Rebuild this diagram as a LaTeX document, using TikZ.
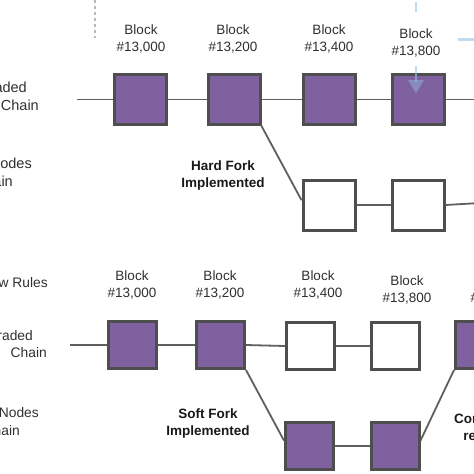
\documentclass[tikz,border=0pt]{standalone}
\usepackage{fontspec}
\setmainfont{Liberation Sans}
\definecolor{blockpurple}{RGB}{127,97,160}
\definecolor{edgegrey}{RGB}{78,78,78}
\definecolor{linegrey}{RGB}{95,95,95}
\definecolor{txtgrey}{RGB}{48,48,48}
\definecolor{cursorblue}{RGB}{150,195,225}
\begin{document}
\begin{tikzpicture}[x=1pt,y=-1pt,
 blk/.style={draw=edgegrey, line width=3pt, inner sep=0pt, minimum width=52pt, minimum height=50pt},
 pblk/.style={blk, fill=blockpurple},
 wblk/.style={blk, fill=white},
 sblk/.style={minimum width=48pt, minimum height=47pt},
 conn/.style={draw=linegrey, line width=1.8pt},
 lbl/.style={font=\fontsize{13.5}{16.5}\selectfont, text=txtgrey, align=center, inner sep=0pt},
 side/.style={font=\fontsize{14.5}{17}\selectfont, text=txtgrey, inner sep=0pt, anchor=base east},
 sideb/.style={font=\fontsize{13.8}{17}\selectfont, text=txtgrey, inner sep=0pt, anchor=base east},
 boldlbl/.style={font=\fontsize{13.5}{17}\selectfont\bfseries, text=black!90, align=center, inner sep=0pt},
 cursor/.style={draw=cursorblue, opacity=0.6}
]
\useasboundingbox (0,0) rectangle (474,474);
\clip (0,0) rectangle (474,474);
\fill[white] (0,0) rectangle (474,474);

% dotted separator
\draw[gray!55, line width=1.3pt, dash pattern=on 3pt off 3pt] (95,0) -- (95,38);

% ===== top: hard fork =====
\node[side] (tu1) at (27,92) {Upgraded};
\node[side] (tu2) at (39,110) {Chain};
\node[side] (tl1) at (32,168) {Legacy Nodes};
\node[side] (tl2) at (13,186) {Chain};

\node[lbl] (tb1) at (141,39) {Block\\\#13,000};
\node[lbl] (tb2) at (233,39) {Block\\\#13,200};
\node[lbl] (tb3) at (329,39) {Block\\\#13,400};
\node[lbl] (tb4) at (416,43) {Block\\\#13,800};

\node[pblk] (T1) at (140.5,99.5) {};
\node[pblk] (T2) at (234,99.5) {};
\node[pblk] (T3) at (329,99.5) {};
\node[pblk] (T4) at (418.5,99.5) {};
\node[wblk] (W1) at (329,205) {};
\node[wblk] (W2) at (418,205) {};

\coordinate (ts) at (77,99.5);
\coordinate (te1) at (480,99.5);
\coordinate (te2) at (480,203);

\draw[conn] (ts) -- (T1.west);
\draw[conn] (T1.east) -- (T2.west);
\draw[conn] (T2.east) -- (T3.west);
\draw[conn] (T3.east) -- (T4.west);
\draw[conn] (T4.east) -- (te1);
\draw[conn] (T2.south east) -- (W1.170);
\draw[conn] (W1.east) -- (W2.west);
\draw[conn] (W2.east) -- (te2);

\node[boldlbl] (hf) at (223,176) {Hard Fork\\Implemented};

% faint cursor marks
\draw[cursor, line width=2.5pt] (416,2) -- (416,12);
\draw[cursor, line width=3pt] (458,39) -- (474,39);
\draw[cursor, line width=2.5pt] (416,66) -- (416,82);
\fill[cursorblue, opacity=0.45] (408,80) -- (424,80) -- (416,93) -- cycle;

% ===== bottom: soft fork =====
\node[sideb] (bn) at (48,287) {New Rules};
\node[sideb] (bu1) at (33,340) {Upgraded};
\node[sideb] (bu2) at (47,357) {Chain};
\node[sideb] (bl1) at (39,417) {Legacy Nodes};
\node[sideb] (bl2) at (20,435) {Chain};

\node[lbl] (bb1) at (132,285) {Block\\\#13,000};
\node[lbl] (bb2) at (220,285) {Block\\\#13,200};
\node[lbl] (bb3) at (318,285) {Block\\\#13,400};
\node[lbl] (bb4) at (407,290) {Block\\\#13,800};
\node[lbl] (bb5) at (495,290) {Block\\\#14,000};

\node[pblk, sblk] (B1) at (132.5,345) {};
\node[pblk, sblk] (B2) at (220.5,345) {};
\node[wblk, sblk] (B3) at (310.5,346) {};
\node[wblk, sblk] (B4) at (395,346) {};
\node[pblk, sblk] (B5) at (479.5,345) {};
\node[pblk, sblk] (L1) at (309.5,446) {};
\node[pblk, sblk] (L2) at (395,446) {};

\coordinate (bs) at (70,345);
\draw[conn] (bs) -- (B1.west);
\draw[conn] (B1.east) -- (B2.west);
\draw[conn] (B2.east) -- (B3.west);
\draw[conn] (B3.east) -- (B4.west);
\draw[conn] (B2.south east) -- (L1.168);
\draw[conn] (L1.east) -- (L2.west);
\draw[conn] (L2.12) -- (B5.south west);

\node[boldlbl] (sf) at (208,424) {Soft Fork\\Implemented};
\node[boldlbl] (cr) at (490.5,427) {Consensus\\restored};
\end{tikzpicture}
\end{document}
